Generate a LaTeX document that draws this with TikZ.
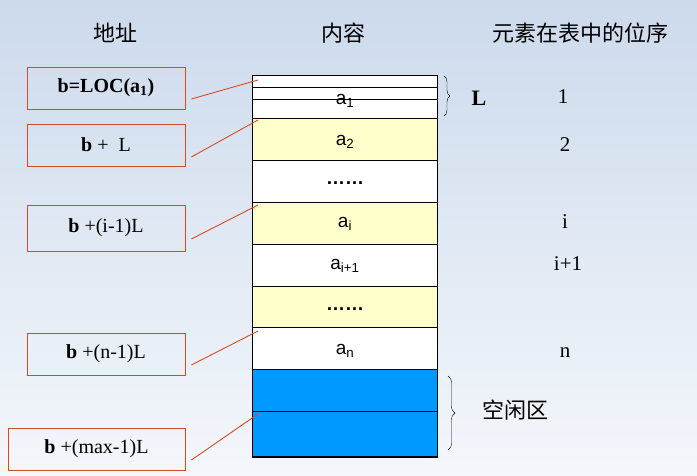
\documentclass[tikz,border=0pt]{standalone}
\usepackage{fontspec}
\setmainfont{Liberation Serif}
\setsansfont{Liberation Sans}
\newfontfamily\cjk{Noto Sans CJK SC}
\usetikzlibrary{decorations.pathreplacing}
\definecolor{bgtop}{HTML}{CCDAEC}
\definecolor{bgbot}{HTML}{F4F7FB}
\definecolor{yel}{HTML}{FFFFCC}
\definecolor{blu}{HTML}{0099FF}
\definecolor{redl}{HTML}{D84A20}
\begin{document}
\begin{tikzpicture}[x=1pt,y=-1pt,
 cell/.style={draw=black,line width=0.8pt},
 addr/.style={draw=redl,line width=0.8pt,fill=none,font=\fontsize{20}{22}\selectfont},
 ptr/.style={draw=redl,line width=0.9pt},
 lab/.style={font=\sffamily\fontsize{19}{21}\selectfont},
 hdr/.style={font=\cjk\fontsize{22}{24}\selectfont},
 num/.style={font=\fontsize{21}{23}\selectfont}]
\shade[top color=bgtop,bottom color=bgbot] (0,0) rectangle (697,476);
\useasboundingbox (0,0) rectangle (697,476);
\node[hdr] (h1) at (115,33) {地址};
\node[hdr] (h2) at (343,33) {内容};
\node[hdr] (h3) at (580,33) {元素在表中的位序};
% cells
\filldraw[cell,fill=white] (252,75) rectangle (437,118);
\draw[cell] (252,87) -- (437,87); \draw[cell] (252,99) -- (437,99);
\filldraw[cell,fill=yel] (252,118) rectangle (437,160);
\filldraw[cell,fill=white] (252,160) rectangle (437,202);
\filldraw[cell,fill=yel] (252,202) rectangle (437,244);
\filldraw[cell,fill=white] (252,244) rectangle (437,286);
\filldraw[cell,fill=yel] (252,286) rectangle (437,327);
\filldraw[cell,fill=white] (252,327) rectangle (437,369);
\filldraw[cell,fill=blu] (252,369) rectangle (437,411);
\filldraw[cell,fill=blu] (252,411) rectangle (437,457);
\draw[line width=2.5pt] (252,457) -- (437,457);
\node[lab] (c1) at (345,101) {a\textsubscript{1}};
\node[lab] (c2) at (345,142) {a\textsubscript{2}};
\node[lab] (c3) at (345,183) {\textbf{……}};
\node[lab] (c4) at (345,224) {a\textsubscript{i}};
\node[lab] (c5) at (345,266) {a\textsubscript{i+1}};
\node[lab] (c6) at (345,309) {\textbf{……}};
\node[lab] (c7) at (345,351) {a\textsubscript{n}};
\coordinate (p1) at (258,80); \coordinate (p2) at (258,120);
\coordinate (p3) at (258,205); \coordinate (p4) at (258,331);
\coordinate (p5) at (258,414);
% address boxes
\node[addr,minimum width=158,minimum height=42] (b1) at (106,88) {\textbf{b=LOC(a\textsubscript{1})}};
\node[addr,minimum width=158,minimum height=42] (b2) at (106,145) {\textbf{b} + \ L};
\node[addr,minimum width=158,minimum height=46] (b3) at (106,228) {\textbf{b} +(i-1)L};
\node[addr,minimum width=158,minimum height=42] (b4) at (106,354) {\textbf{b} +(n-1)L};
\node[addr,minimum width=177,minimum height=42] (b5) at (96.5,449) {\textbf{b} +(max-1)L};
\draw[ptr] ([xshift=6pt,yshift=-11pt]b1.east) -- (p1);
\draw[ptr] ([xshift=6pt,yshift=-12pt]b2.east) -- (p2);
\draw[ptr] ([xshift=6pt,yshift=-11pt]b3.east) -- (p3);
\draw[ptr] ([xshift=6pt,yshift=-11pt]b4.east) -- (p4);
\draw[ptr] ([xshift=6pt,yshift=-11pt]b5.east) -- (p5);
% positions
\node[num] (n1) at (563,97) {1};
\node[num] (n2) at (565,145) {2};
\node[num] (n3) at (565,222) {i};
\node[num] (n4) at (568,264) {i+1};
\node[num] (n5) at (565,353) {n};
% braces
\draw[decorate,decoration={brace,amplitude=6pt}] (444,76) -- (444,116);
\node[font=\fontsize{22}{24}\selectfont\bfseries] (L) at (479,98) {L};
\draw[decorate,decoration={brace,amplitude=7pt}] (448,376) -- (448,450);
\node[hdr] (free) at (515,410) {空闲区};
\end{tikzpicture}
\end{document}
